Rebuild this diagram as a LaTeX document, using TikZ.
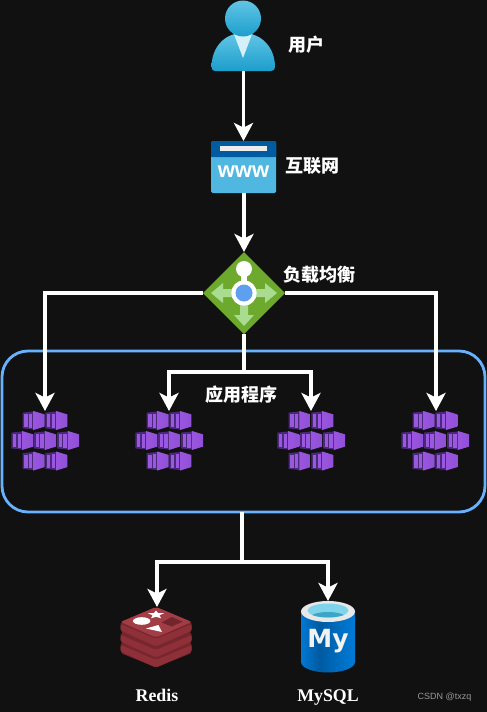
\documentclass[tikz,border=0pt]{standalone}
\usepackage{fontspec}
\setmainfont{Liberation Serif}
\newfontfamily\cjk{Noto Sans CJK SC}
\newfontfamily\arial{Liberation Sans}
\newfontfamily\dejavu{DejaVu Sans}
\usetikzlibrary{arrows.meta,calc}
\definecolor{bg}{HTML}{111111}
\definecolor{boxblue}{HTML}{66B2FF}
\definecolor{userlight}{HTML}{62C5E6}
\definecolor{userdark}{HTML}{1B9ECC}
\definecolor{tiecol}{HTML}{D4F0F8}
\definecolor{wwwdark}{HTML}{005BA1}
\definecolor{wwwlight}{HTML}{50B8E0}
\definecolor{lbgreen}{HTML}{6DA92C}
\definecolor{lbarrow}{HTML}{A9DC90}
\definecolor{lbblue}{HTML}{5EA0EF}
\definecolor{kframe}{HTML}{4A2A78}
\definecolor{kbar}{HTML}{9A58E0}
\definecolor{kleft}{HTML}{9A55DE}
\definecolor{kright}{HTML}{9050D8}
\definecolor{redistop}{HTML}{A23D45}
\definecolor{redisside}{HTML}{8F3039}
\definecolor{redisedge}{HTML}{76262D}
\definecolor{redisnotch}{HTML}{71252C}
\definecolor{myblue}{HTML}{0078D4}
\definecolor{mydark}{HTML}{005BA1}
\definecolor{myrim}{HTML}{E8E8E8}
\definecolor{mywater}{HTML}{7FD3EA}
\definecolor{mydeep}{HTML}{3CA6C8}
\pgfdeclarehorizontalshading{mycyl}{100bp}{color(0bp)=(myblue); color(25bp)=(myblue); color(42bp)=(mydark); color(72bp)=(myblue); color(100bp)=(myblue)}
\tikzset{
  link/.style={draw=white,line width=3.7pt,-{Stealth[length=18pt,width=19pt,inset=4.5pt]}},
  trunk/.style={draw=white,line width=3.7pt},
  anchorbox/.style={inner sep=0pt,outer sep=0pt,minimum width=#1},
  cnlabel/.style={text=white,font=\cjk\bfseries\fontsize{18}{20}\selectfont,inner sep=0pt},
  dblabel/.style={text=white,font=\bfseries\fontsize{17.8}{20}\selectfont,inner sep=0pt,anchor=base},
  kubecell/.pic={
    \fill[kframe] (0,1.6) -- (11.5,0.4) -- (11.5,18.6) -- (0,17.4) -- cycle;
    \fill[kbar] (1.6,3.2) rectangle (5,16);
    \fill[kbar] (6.2,2.6) rectangle (9.8,16.6);
    \shade[left color=kleft,right color=kright] (10.8,0) -- (22,3.4) -- (22,15.6) -- (10.8,19) -- cycle;
  },
  kubecluster/.pic={
    \pic at (-22.7,-30) {kubecell};
    \pic at (0,-30) {kubecell};
    \pic at (-34,-10) {kubecell};
    \pic at (-11.3,-10) {kubecell};
    \pic at (11.8,-10) {kubecell};
    \pic at (-22.7,10.5) {kubecell};
    \pic at (0,10.5) {kubecell};
  }
}
\begin{document}
\begin{tikzpicture}[x=1pt,y=-1pt]
\useasboundingbox (0,0) rectangle (487,712);
\fill[bg] (0,0) rectangle (487,712);

% anchor nodes for the icons
\node[anchorbox=64,minimum height=71] (user) at (243.5,35.5) {};
\node[anchorbox=65,minimum height=52] (www) at (243.5,167) {};
\node[anchorbox=82,minimum height=82] (lb) at (244,293) {};
\node[anchorbox=483,minimum height=161,draw=boxblue,line width=2.8pt,rounded corners=26pt] (box) at (243.5,431.5) {};
\node[anchorbox=71,minimum height=60] (redis) at (157,637) {};
\node[anchorbox=54,minimum height=72] (mysql) at (328,637) {};
\coordinate (k1) at (45,411);
\coordinate (k2) at (169,411);
\coordinate (k3) at (311,411);
\coordinate (k4) at (436,411);
\coordinate (lbsplit) at (244,372);
\coordinate (dbsplit) at (242,562);

% user
\shade[top color=userlight,bottom color=userdark]
  (215,71) -- (271,71) .. controls (273.5,71) and (275,69.5) .. (275,67)
  .. controls (275,48) and (262,33) .. (243,33)
  .. controls (224,33) and (211.5,48) .. (211.5,67)
  .. controls (211.5,69.5) and (213,71) .. (215,71) -- cycle;
\fill[tiecol] (233.5,33) -- (252.5,33) -- (243,58) -- cycle;
\shade[top color=userlight,bottom color=userdark] (243,18.5) circle (18);

% www
\fill[wwwlight,rounded corners=1.5pt] (211,141) rectangle (276,193);
\fill[wwwdark,rounded corners=1.5pt] (211,141) rectangle (276,157);
\fill[wwwdark] (211,152) rectangle (276,156.5);
\fill[white!93!black] (220,145.5) rectangle (267,151);
\node[text=white,font=\arial\bfseries\fontsize{22}{24}\selectfont,inner sep=0pt] (wwwtext) at (243.5,172) {www};

% load balancer
\fill[lbgreen] (244,252) -- (285,293) -- (244,334) -- (203,293) -- cycle;
\fill[lbarrow] (211,293) -- (223,283) -- (223,289) -- (265,289) -- (265,283) -- (277,293) -- (265,303) -- (265,297) -- (223,297) -- (223,303) -- cycle;
\fill[lbarrow] (240,293) -- (248,293) -- (248,315) -- (254,315) -- (244,326) -- (234,315) -- (240,315) -- cycle;
\fill[white] (244,269) circle (8);
\fill[white] (241,272) rectangle (247,285);
\fill[white] (244,293) circle (12.7);
\fill[lbblue] (244,293) circle (8.5);

% container clusters
\pic at (45.3,441) {kubecluster};
\pic at (169.3,441) {kubecluster};
\pic at (311.3,441) {kubecluster};
\pic at (435.3,441) {kubecluster};

% redis
\foreach \dy in {21,11,0}{
  \fill[redisedge,rounded corners=2pt] (120.7,622+\dy) -- (156,607+\dy) -- (191.7,622+\dy) -- (191.7,632+\dy) -- (156,646.5+\dy) -- (120.7,632+\dy) -- cycle;
  \fill[redisside,rounded corners=2pt] (120.7,624+\dy) -- (156,639+\dy) -- (191.7,624+\dy) -- (191.7,630.5+\dy) -- (156,646.5+\dy) -- (120.7,630.5+\dy) -- cycle;
}
\fill[redistop,rounded corners=2pt] (120.7,622) -- (156,607) -- (191.7,622) -- (156,637.5) -- cycle;
\fill[redisnotch] (161.7,622.5) -- (171.7,617) -- (182.7,621.7) -- (171.7,626.5) -- cycle;
\fill[white] (141.7,621) ellipse (8.7 and 3.8);
\fill[white] (156,610.5) -- (158,613) -- (164,613.2) -- (159.5,615.3) -- (161.2,618.3) -- (156,616.8) -- (151,618.3) -- (152.5,615.3) -- (148,613.2) -- (154,613) -- cycle;
\fill[white] (146,628.5) -- (158.5,625) -- (162,632) -- cycle;

% mysql
\shade[shading=mycyl]
  (301,611) -- (301,662) arc[start angle=180,end angle=0,x radius=27,y radius=10.5] -- (355,611) -- cycle;
\fill[myrim] (328,611.5) ellipse (27 and 10.5);
\fill[mywater] (328,610.5) ellipse (20.5 and 7);
\begin{scope}
  \clip (328,610.5) ellipse (20.5 and 7);
  \fill[mydeep] (328,618.5) ellipse (19 and 6.5);
\end{scope}
\node[text=white!95!black,font=\dejavu\bfseries\fontsize{25}{27}\selectfont,inner sep=0pt] (mytext) at (328,641) {My};

% connectors
\draw[link] (user.south) -- (www.north);
\draw[link] (www.south -| lb.north) -- (lb.north);
\draw[link] (lb.west) -| (k1);
\draw[link] (lb.east) -| (k4);
\draw[trunk] (lb.south) -- (lbsplit);
\draw[link] (lbsplit) -| (k2);
\draw[link] (lbsplit) -| (k3);
\draw[trunk] (box.south -| dbsplit) -- (dbsplit);
\draw[link] (dbsplit) -| (redis.north);
\draw[link] (dbsplit) -| (mysql.north);

% labels
\node[cnlabel] (lab1) at (306,45) {用户};
\node[cnlabel] (lab2) at (312.5,166) {互联网};
\node[cnlabel] (lab3) at (319,275) {负载均衡};
\node[cnlabel] (lab4) at (241,395) {应用程序};
\node[dblabel] (lab5) at (157,701.5) {Redis};
\node[dblabel] (lab6) at (328,701.5) {MySQL};
\node[text=white!60!black,font=\arial\fontsize{9}{11}\selectfont,inner sep=0pt] (wm) at (444.5,697) {CSDN @txzq};
\end{tikzpicture}
\end{document}
